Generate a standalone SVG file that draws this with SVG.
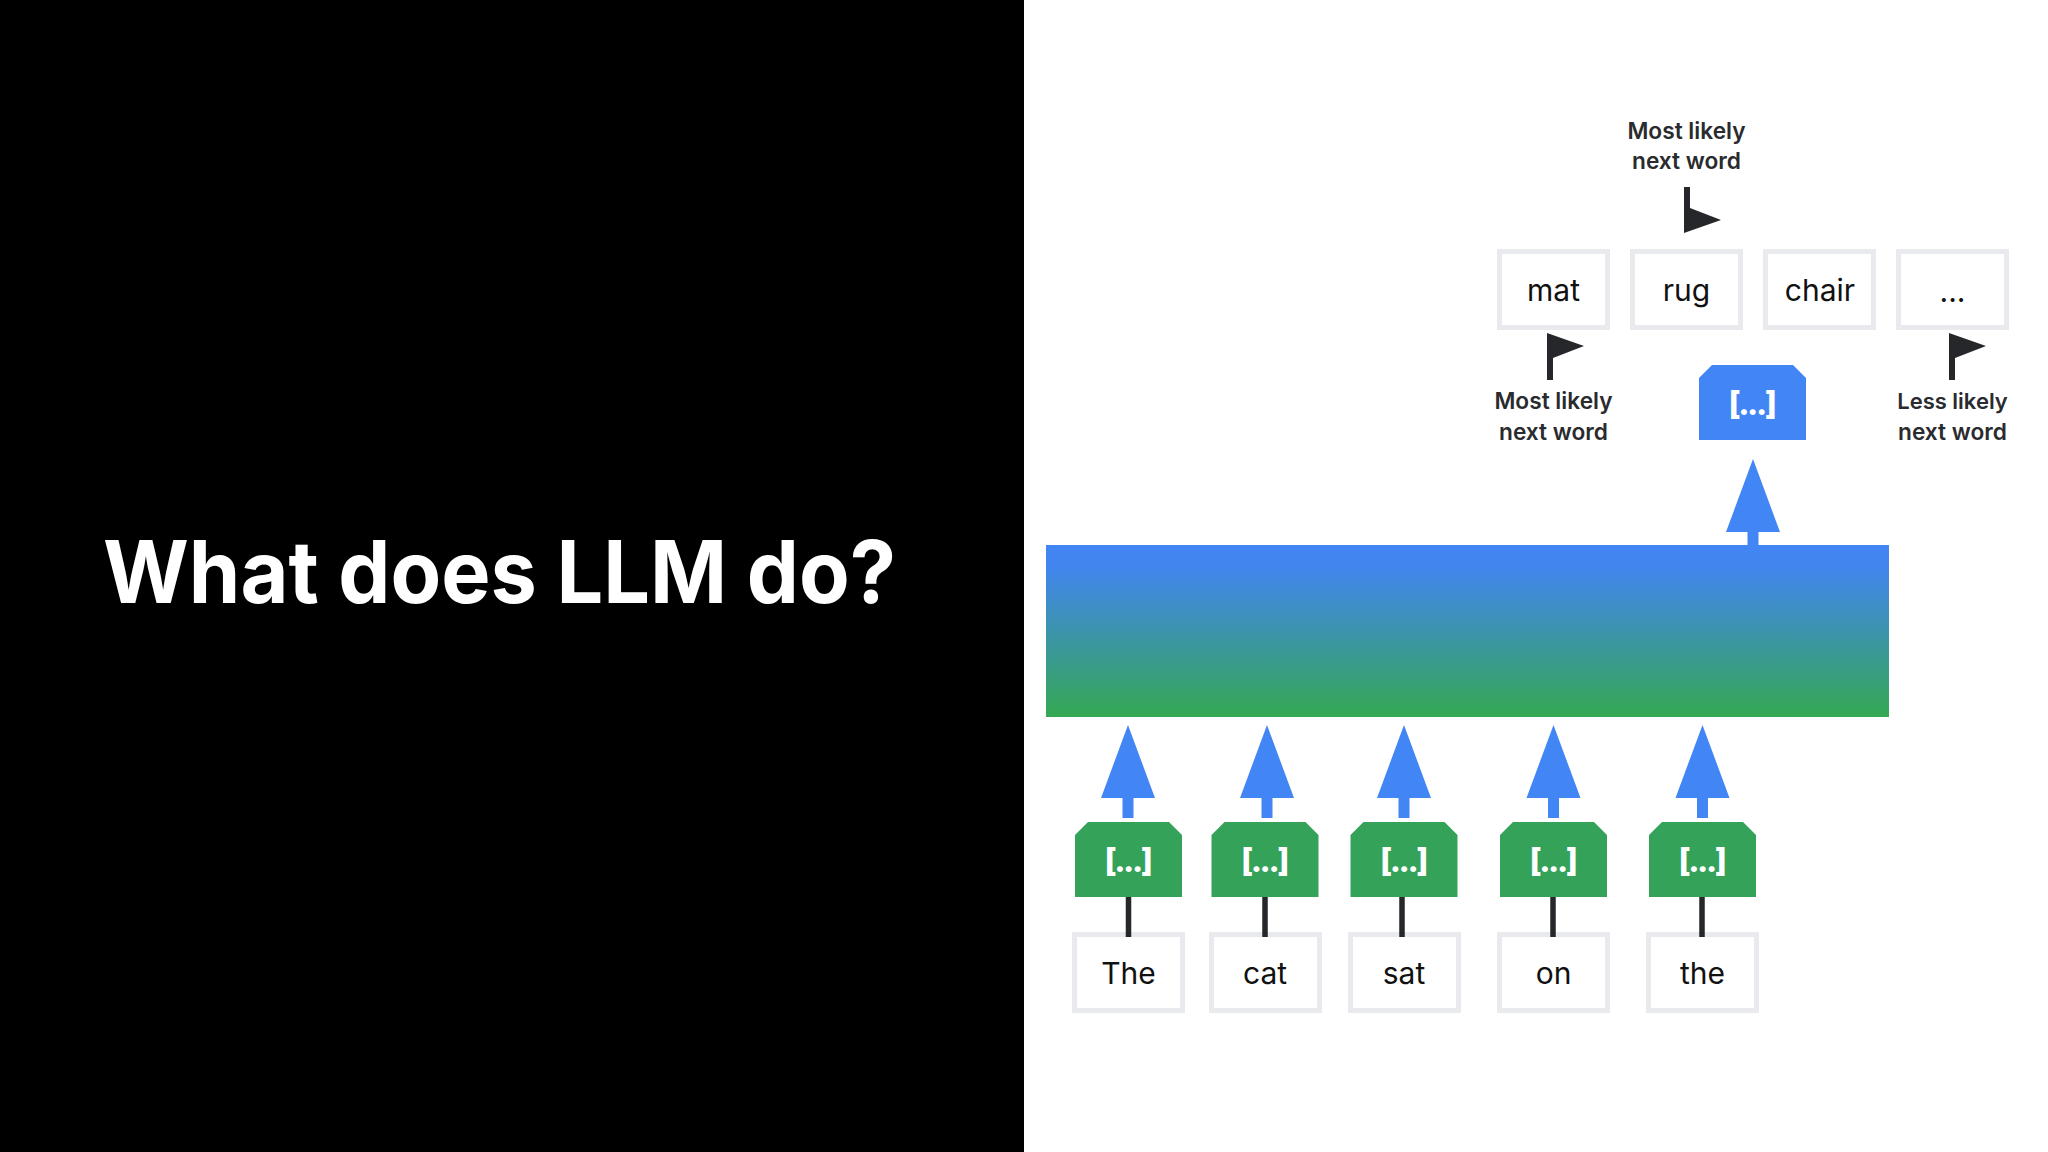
<svg xmlns="http://www.w3.org/2000/svg" width="2048" height="1152" viewBox="0 0 2048 1152">
<defs>
<linearGradient id="g" x1="0" y1="0" x2="0" y2="1"><stop offset="0" stop-color="#4285f4"/><stop offset="0.12" stop-color="#4285f0"/><stop offset="1" stop-color="#34a853"/></linearGradient>
<path id="chip" d="M13 0H94L107 13V75H0V13Z"/>
<path id="arrow" d="M0 0L27 73H5.5V93H-5.5V73H-27Z"/>
<path id="flagUp" d="M0 0L37 13L6 25V47H0Z"/>
</defs>
<style>
.word{font-family:Inter,"Liberation Sans",sans-serif;font-size:30px;fill:#111;text-anchor:middle}
.box{fill:#fff;stroke:#e8eaed;stroke-width:5}
.lab{font-family:Inter,"Liberation Sans",sans-serif;font-size:22.700px;font-weight:600;fill:#2a2b2e;text-anchor:middle}
.dots{font-family:Inter,"Liberation Sans",sans-serif;font-size:32px;font-weight:800;letter-spacing:-2.500px;fill:#fff;text-anchor:middle}
.blue{fill:#4285f4}.green{fill:#34a259}.dark{fill:#26272a}
.wire{stroke:#26272a;stroke-width:5.500;fill:none}
</style>
<rect width="1024" height="1152" fill="#000"/>
<rect x="1024" width="1024" height="1152" fill="#fff"/>
<text id="title" x="103" y="603" font-family="Inter,'Liberation Sans',sans-serif" font-size="87" font-weight="700" fill="#fff" textLength="793" lengthAdjust="spacingAndGlyphs">What does LLM do?</text>
<rect id="model" x="1046" y="545" width="843" height="172" fill="url(#g)"/>
<g id="w-the"><rect class="box" x="1074.500" y="934.500" width="108" height="76"/><text class="word" x="1128.500" y="984">The</text></g>
<g id="w-cat"><rect class="box" x="1211.500" y="934.500" width="108" height="76"/><text class="word" x="1265" y="984">cat</text></g>
<g id="w-sat"><rect class="box" x="1350.500" y="934.500" width="108" height="76"/><text class="word" x="1404" y="984">sat</text></g>
<g id="w-on"><rect class="box" x="1499.500" y="934.500" width="108" height="76"/><text class="word" x="1553.500" y="984">on</text></g>
<g id="w-the2"><rect class="box" x="1648.500" y="934.500" width="108" height="76"/><text class="word" x="1702.500" y="984">the</text></g>
<g id="c-1"><use href="#chip" class="green" x="1075" y="822"/><text class="dots" x="1127.500" y="872">[...]</text></g>
<g id="c-2"><use href="#chip" class="green" x="1211.500" y="822"/><text class="dots" x="1264" y="872">[...]</text></g>
<g id="c-3"><use href="#chip" class="green" x="1350.500" y="822"/><text class="dots" x="1403" y="872">[...]</text></g>
<g id="c-4"><use href="#chip" class="green" x="1500" y="822"/><text class="dots" x="1552.500" y="872">[...]</text></g>
<g id="c-5"><use href="#chip" class="green" x="1649" y="822"/><text class="dots" x="1701.500" y="872">[...]</text></g>
<g id="c-out"><use href="#chip" class="blue" x="1699" y="365"/><text class="dots" x="1751.500" y="415">[...]</text></g>
<g id="o-mat"><rect class="box" x="1499.500" y="251.500" width="108" height="76"/><text class="word" x="1553.500" y="301">mat</text></g>
<g id="o-rug"><rect class="box" x="1632.500" y="251.500" width="108" height="76"/><text class="word" x="1686.500" y="301">rug</text></g>
<g id="o-chair"><rect class="box" x="1765.500" y="251.500" width="108" height="76"/><text class="word" x="1820" y="301">chair</text></g>
<g id="o-more"><rect class="box" x="1898.500" y="251.500" width="108" height="76"/><text class="word" x="1952.500" y="302">...</text></g>
<g id="flag-mat"><use href="#flagUp" class="dark" x="1547" y="333"/><text class="lab" x="1553.500" y="409">Most likely</text><text class="lab" x="1553.500" y="440">next word</text></g>
<g id="flag-rug"><path class="dark" d="M1684 187H1690V208L1721 220L1684 233Z"/><text class="lab" x="1686.500" y="139">Most likely</text><text class="lab" x="1686.500" y="169">next word</text></g>
<g id="flag-more"><use href="#flagUp" class="dark" x="1949" y="333"/><text class="lab" x="1952.500" y="409" font-size="22" style="font-size:22px">Less likely</text><text class="lab" x="1952.500" y="440">next word</text></g>
<g id="connectors">
<use href="#arrow" class="blue" x="1128" y="725"/>
<use href="#arrow" class="blue" x="1267" y="725"/>
<use href="#arrow" class="blue" x="1404" y="725"/>
<use href="#arrow" class="blue" x="1553.500" y="725"/>
<use href="#arrow" class="blue" x="1702.500" y="725"/>
<use href="#arrow" class="blue" x="1753" y="459"/>
<path class="wire" d="M1128.500 897V937M1265 897V937M1402 897V937M1553 897V937M1702 897V937"/>
</g>
</svg>
